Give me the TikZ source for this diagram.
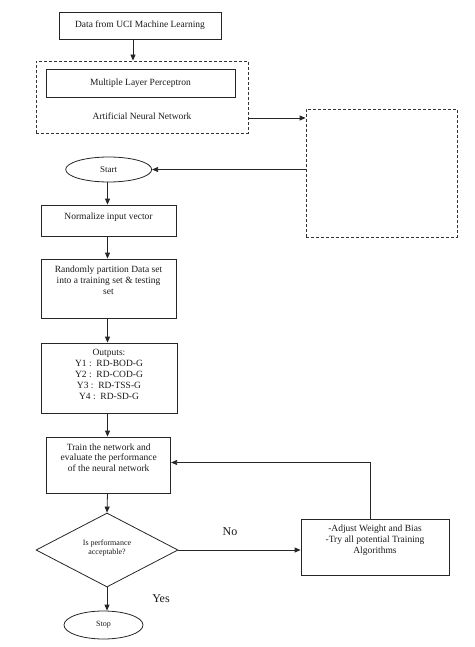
\documentclass[tikz,border=0pt]{standalone}
\usepackage{fontspec}
\setmainfont{Liberation Serif}
\usetikzlibrary{shapes.geometric,arrows.meta,calc}
\begin{document}
\begin{tikzpicture}[x=1pt,y=-1pt,
  ln/.style={draw=black!85, line width=0.8pt},
  box/.style={ln, rectangle, inner sep=0pt},
  dbox/.style={draw=black!80, line width=0.8pt, dash pattern=on 3pt off 2pt, rectangle, inner sep=0pt},
  oval/.style={ln, ellipse, inner sep=0pt},
  txt/.style={font=\fontsize{9.5}{11.2}\selectfont, text=black!90, align=center, inner sep=0pt},
  stxt/.style={font=\fontsize{8}{9.5}\selectfont, text=black!90, align=center, inner sep=0pt},
  btxt/.style={font=\fontsize{12}{14}\selectfont, text=black!90, inner sep=0pt},
  arr/.style={ln, -{Triangle[length=6pt,width=5pt]}}
]
\useasboundingbox (0,0) rectangle (474,647);
% nodes
\node[box, minimum width=162pt, minimum height=27pt] (data) at (140,25.5) {};
\node[txt] at (data.center) {Data from UCI Machine Learning};
\node[dbox, minimum width=212pt, minimum height=72pt] (ann) at (142,97) {};
\node[box, minimum width=189pt, minimum height=28pt] (mlp) at (140.5,83) {};
\node[txt] at (mlp.center) {Multiple Layer Perceptron};
\node[txt] (annt) at (142,116) {Artificial Neural Network};
\node[dbox, minimum width=151pt, minimum height=128pt] (rb) at (381.5,173) {};
\node[oval, minimum width=86pt, minimum height=25pt] (start) at (108.7,169.5) {};
\node[stxt, font=\fontsize{9}{10}\selectfont] at (start.center) {Start};
\node[box, minimum width=135pt, minimum height=31pt] (norm) at (108.5,220.5) {};
\node[txt] at ([yshift=3pt]norm.center) {Normalize input vector};
\node[box, minimum width=135pt, minimum height=59pt] (rand) at (108.5,288.5) {};
\node[txt, anchor=north] at ([yshift=-7pt]rand.north) {Randomly partition Data set\\into a training set \& testing\\set};
\node[box, minimum width=136pt, minimum height=70pt] (outp) at (109,378) {};
\node[txt, anchor=north, font=\fontsize{9.5}{11}\selectfont] at ([yshift=-6pt]outp.north) {Outputs:\\Y1 :\ \ RD-BOD-G\\Y2 :\ \ RD-COD-G\\Y3 :\ \ RD-TSS-G\\Y4 :\ \ RD-SD-G};
\node[box, minimum width=124pt, minimum height=56pt] (train) at (108.7,465) {};
\node[txt, anchor=north, font=\fontsize{9.5}{10.6}\selectfont] at ([yshift=-7pt]train.north) {Train the network and\\evaluate the performance\\of the neural network};
\node[ln, diamond, minimum width=142pt, minimum height=74pt, inner sep=0pt] (dec) at (107,550) {};
\node[stxt] at ([yshift=2pt]dec.center) {Is performance\\acceptable?};
\node[oval, minimum width=79pt, minimum height=28pt] (stop) at (103.5,625) {};
\node[stxt] at (stop.center) {Stop};
\node[box, minimum width=148pt, minimum height=56pt] (adj) at (375,547) {};
\node[txt, anchor=north, font=\fontsize{9.5}{11}\selectfont] at ([yshift=-6pt]adj.north) {-Adjust Weight and Bias\\-Try all potential Training\\Algorithms};
\node[btxt] (nolab) at (230,532) {No};
\node[btxt] (yeslab) at (161,599) {Yes};
\coordinate (colx) at (107.5,0);
\coordinate (fb) at (0,462.5);
% connectors
\draw[arr] ([xshift=-7pt]data.south) -- ([xshift=-7pt]data.south |- ann.north);
\draw[arr] ([yshift=-21pt]ann.east) -- ([yshift=-21pt]ann.east -| rb.west);
\draw[arr] (start.east -| rb.west) -- (start.east);
\draw[arr] (start.south -| colx) -- (norm.north -| colx);
\draw[arr] (norm.south -| colx) -- (rand.north -| colx);
\draw[arr] (rand.south -| colx) -- (outp.north -| colx);
\draw[arr] (outp.south -| colx) -- (train.north -| colx);
\draw[arr] (train.south -| colx) -- (dec.north);
\draw[arr] (dec.south) -- (stop.north -| dec.south);
\draw[arr] (dec.east) -- (dec.east -| adj.west);
\draw[arr] ([xshift=-5pt]adj.north) |- (fb -| train.east);
\end{tikzpicture}
\end{document}
